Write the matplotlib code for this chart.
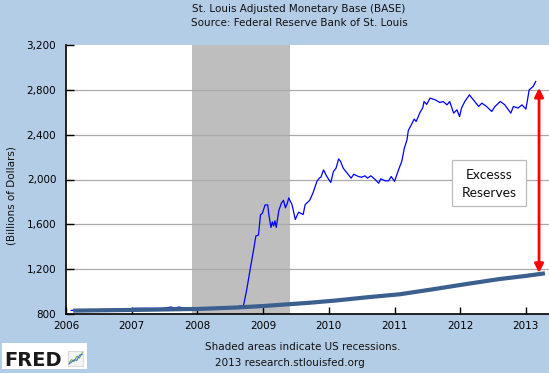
import matplotlib
matplotlib.use("Agg")
import matplotlib.pyplot as plt
from matplotlib.patches import Rectangle

# ---- data ----
base_dates = [2006.08, 2006.25, 2006.42, 2006.58, 2006.75, 2006.92, 2007.05, 2007.20, 2007.35,
              2007.50, 2007.60, 2007.65, 2007.72, 2007.80, 2007.92, 2008.05, 2008.20, 2008.35,
              2008.50, 2008.60, 2008.65, 2008.70, 2008.75, 2008.81, 2008.86, 2008.89, 2008.93,
              2008.96, 2008.99, 2009.03, 2009.07, 2009.09, 2009.12, 2009.14, 2009.16, 2009.18,
              2009.20, 2009.24, 2009.28, 2009.31, 2009.34, 2009.37, 2009.39, 2009.44, 2009.49,
              2009.54, 2009.61, 2009.64, 2009.71, 2009.76, 2009.82, 2009.86, 2009.88, 2009.92,
              2009.97, 2010.03, 2010.07, 2010.11, 2010.15, 2010.18, 2010.22, 2010.28, 2010.34,
              2010.38, 2010.45, 2010.50, 2010.55, 2010.59, 2010.64, 2010.70, 2010.76, 2010.79,
              2010.86, 2010.91, 2010.95, 2011.00, 2011.03, 2011.08, 2011.11, 2011.15, 2011.19,
              2011.21, 2011.25, 2011.30, 2011.33, 2011.39, 2011.43, 2011.45, 2011.49, 2011.54,
              2011.62, 2011.69, 2011.74, 2011.80, 2011.84, 2011.90, 2011.95, 2011.99, 2012.02,
              2012.07, 2012.14, 2012.20, 2012.28, 2012.33, 2012.40, 2012.48, 2012.53, 2012.61,
              2012.68, 2012.77, 2012.81, 2012.88, 2012.94, 2013.00, 2013.05, 2013.11, 2013.15]
base_values = [832, 836, 838, 840, 842, 845, 851, 851, 850,
               852, 862, 852, 862, 852, 851, 853, 854, 852,
               856, 858, 873, 871, 1014, 1222, 1389, 1496, 1505,
               1684, 1700, 1773, 1773, 1676, 1572, 1622, 1586, 1631,
               1572, 1725, 1791, 1815, 1747, 1791, 1836, 1776, 1643,
               1708, 1688, 1776, 1815, 1881, 1985, 2015, 2021, 2086,
               2027, 1973, 2071, 2101, 2184, 2160, 2101, 2056, 2012,
               2047, 2027, 2020, 2033, 2012, 2033, 2003, 1967, 2006,
               1988, 1988, 2027, 1983, 2033, 2116, 2160, 2280, 2354,
               2437, 2482, 2539, 2518, 2600, 2640, 2696, 2670, 2726,
               2711, 2687, 2696, 2666, 2696, 2592, 2622, 2562, 2637,
               2696, 2755, 2711, 2652, 2681, 2652, 2607, 2652, 2696,
               2666, 2592, 2652, 2637, 2666, 2628, 2800, 2830, 2875]

trend_dates = [2006.11, 2007.0, 2008.0, 2008.6, 2009.0, 2009.7, 2010.1, 2010.58, 2011.08,
               2011.59, 2012.1, 2012.6, 2013.0, 2013.29]
trend_values = [830, 836, 845, 858, 871, 900, 920, 949, 976,
                1021, 1068, 1112, 1140, 1163]

recession_start, recession_end = 2007.917, 2009.417
arrow_x, arrow_top, arrow_bottom = 2013.2, 2818, 1166

y_ticks = [800, 1200, 1600, 2000, 2400, 2800, 3200]
y_tick_labels = ["800", "1,200", "1,600", "2,000", "2,400", "2,800", "3,200"]
x_ticks = [2006, 2007, 2008, 2009, 2010, 2011, 2012, 2013]
x_tick_labels = ["2006", "2007", "2008", "2009", "2010", "2011", "2012", "2013"]

BG = "#B4CDE6"
W, H = 549, 373
fig = plt.figure(figsize=(W / 100, H / 100), dpi=100, facecolor=BG)
ax = fig.add_axes([66 / W, (H - 314) / H, (W - 66) / W, (314 - 45) / H])
ax.set_facecolor("white")

ax.axvspan(recession_start, recession_end, color="#BEBEBE", lw=0, zorder=1)
for yv in y_ticks[1:-1]:
    ax.axhline(yv, color="#AAAAAA", lw=0.9, zorder=1.5)

ax.plot(base_dates, base_values, color="#0000FF", lw=0.9, zorder=3)
ax.plot(trend_dates, trend_values, color="#3B5F8E", lw=3.0, solid_capstyle="butt", zorder=4)

ax.annotate("", xy=(arrow_x, arrow_bottom), xytext=(arrow_x, arrow_top),
            arrowprops=dict(arrowstyle="<|-|>", color="#FF0000", lw=2.0,
                            mutation_scale=13, shrinkA=0, shrinkB=0), zorder=6)

ax.add_patch(Rectangle((2011.875, 1764), 2013.0 - 2011.875, 2174 - 1764,
                       facecolor="white", edgecolor="#BBBBBB", lw=0.9, zorder=5))
ax.text(2012.44, 2040, "Excesss", ha="center", va="center", fontsize=10,
        family=["Lato", "DejaVu Sans"], color="#111111", zorder=6)
ax.text(2012.44, 1882, "Reserves", ha="center", va="center", fontsize=10,
        family=["Lato", "DejaVu Sans"], color="#111111", zorder=6)

ax.set_xlim(2006.0, 2006 + 483 / 65.7)
ax.set_ylim(800, 3200)
ax.set_yticks(y_ticks)
ax.set_yticklabels(y_tick_labels)
ax.set_xticks(x_ticks)
ax.set_xticklabels(x_tick_labels)
ax.tick_params(axis="y", direction="in", length=6, width=1, color="black",
               labelsize=7.5, pad=7)
ax.tick_params(axis="x", direction="in", length=5, width=1, color="black",
               labelsize=7.5, pad=5)
for s in ["top", "right"]:
    ax.spines[s].set_visible(False)
for s in ["left", "bottom"]:
    ax.spines[s].set_color("black")
    ax.spines[s].set_linewidth(1.2)

fig.text(299 / W, 1 - 9 / H, "St. Louis Adjusted Monetary Base (BASE)", ha="center",
         va="center", fontsize=7.5, color="#111111")
fig.text(299 / W, 1 - 23 / H, "Source: Federal Reserve Bank of St. Louis", ha="center",
         va="center", fontsize=7.5, color="#111111")
fig.text(12 / W, 1 - 196 / H, "(Billions of Dollars)", rotation=90, ha="center",
         va="center", fontsize=7.5, color="#111111")
fig.text(303 / W, 1 - 347 / H, "Shaded areas indicate US recessions.", ha="center",
         va="center", fontsize=7.5, color="#111111")
fig.text(290 / W, 1 - 363 / H, "2013 research.stlouisfed.org", ha="center",
         va="center", fontsize=7.5, color="#111111")

# FRED logo
logo_bg = Rectangle((2 / W, (H - 369) / H), 85 / W, 26 / H, facecolor="white",
                    edgecolor="none", transform=fig.transFigure, figure=fig, zorder=-1)
fig.patches.append(logo_bg)
fig.text(4 / W, 1 - 360 / H, "FRED", ha="left", va="center", fontsize=14,
         fontweight="heavy", family="DejaVu Sans", color="#1A1A1A")
icon = fig.add_axes([68 / W, (H - 366) / H, 15 / W, 15 / H])
icon.set_zorder(3)
icon.set_facecolor("#F4F4F4")
icon.plot([0, 1, 2, 3, 4, 5], [0.5, 1.5, 1.0, 2.5, 2.0, 3.5], color="#66AA44", lw=0.8)
icon.plot([0, 1, 2, 3, 4, 5], [0.2, 0.8, 1.5, 1.3, 2.8, 3.0], color="#4477CC", lw=0.8)
icon.set_xlim(-0.3, 5.3)
icon.set_ylim(-0.3, 4)
icon.set_xticks([])
icon.set_yticks([])
for s in icon.spines.values():
    s.set_color("#CCCCCC")
    s.set_linewidth(0.5)

fig.savefig("out.png", dpi=100, facecolor=BG)
